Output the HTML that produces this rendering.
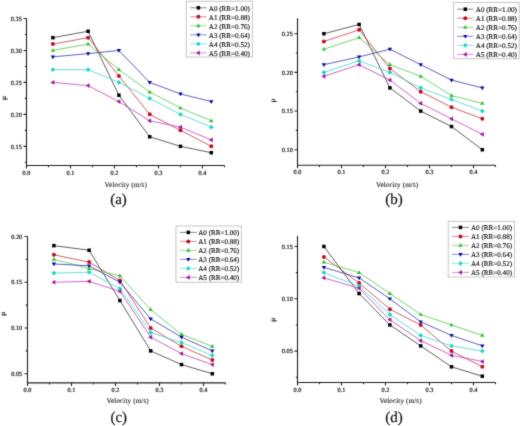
<!DOCTYPE html>
<html><head><meta charset="utf-8"><style>
html,body{margin:0;padding:0;background:#fff;}
svg{display:block;}
text{font-family:"Liberation Serif","DejaVu Serif",serif;fill:#111;stroke:#111;stroke-width:0.12px;text-rendering:geometricPrecision;}
.tk{font-size:6.3px;stroke-width:0.18px;}
.lg{font-size:7.1px;stroke-width:0.15px;}
.vl{font-size:7.2px;letter-spacing:0.1px;stroke-width:0.08px;}
.pl{font-size:15px;stroke-width:0.2px;}
.mu{font-size:7.2px;}
</style></head><body>
<svg width="520" height="426" viewBox="0 0 520 426">
<defs><filter id="bl" x="0" y="0" width="520" height="426" filterUnits="userSpaceOnUse" color-interpolation-filters="sRGB"><feConvolveMatrix order="3" kernelMatrix="0.0225 0.0810 0.0225 0.0810 0.5860 0.0810 0.0225 0.0810 0.0225" edgeMode="duplicate" preserveAlpha="false"/></filter></defs>
<rect width="520" height="426" fill="#fff"/>
<g filter="url(#bl)">
<path d="M26.5 18.5V165.5H224.5" fill="none" stroke="#222" stroke-width="1.1"/>
<path d="M26.5 146.33h-3M26.5 114.37h-3M26.5 82.41h-3M26.5 50.46h-3M26.5 18.5h-3M26.5 162.3h-1.7M26.5 130.35h-1.7M26.5 98.39h-1.7M26.5 66.43h-1.7M26.5 34.48h-1.7M26.5 165.5v3M70.5 165.5v3M114.5 165.5v3M158.5 165.5v3M202.5 165.5v3M48.5 165.5v1.7M92.5 165.5v1.7M136.5 165.5v1.7M180.5 165.5v1.7M224.5 165.5v1.7" stroke="#222" stroke-width="1.1"/>
<text x="21.9" y="148.53" class="tk" text-anchor="end">0.15</text>
<text x="21.9" y="116.57" class="tk" text-anchor="end">0.20</text>
<text x="21.9" y="84.61" class="tk" text-anchor="end">0.25</text>
<text x="21.9" y="52.66" class="tk" text-anchor="end">0.30</text>
<text x="21.9" y="20.7" class="tk" text-anchor="end">0.35</text>
<text x="26.5" y="174.5" class="tk" text-anchor="middle">0.0</text>
<text x="70.5" y="174.5" class="tk" text-anchor="middle">0.1</text>
<text x="114.5" y="174.5" class="tk" text-anchor="middle">0.2</text>
<text x="158.5" y="174.5" class="tk" text-anchor="middle">0.3</text>
<text x="202.5" y="174.5" class="tk" text-anchor="middle">0.4</text>
<polyline points="52.9,37.67 88.1,31.28 118.9,95.2 149.7,136.74 180.5,146.33 211.3,152.72" fill="none" stroke="#383838" stroke-width="0.8"/>
<polyline points="52.9,44.07 88.1,37.67 118.9,76.02 149.7,114.37 180.5,130.35 211.3,146.33" fill="none" stroke="#c83848" stroke-width="0.8"/>
<polyline points="52.9,50.46 88.1,44.07 118.9,69.63 149.7,92 180.5,107.98 211.3,120.76" fill="none" stroke="#50c850" stroke-width="0.8"/>
<polyline points="52.9,56.85 88.1,53.65 118.9,50.46 149.7,82.41 180.5,93.92 211.3,101.59" fill="none" stroke="#3838b0" stroke-width="0.8"/>
<polyline points="52.9,69.63 88.1,69.63 118.9,82.41 149.7,98.39 180.5,114.37 211.3,127.15" fill="none" stroke="#40d8d0" stroke-width="0.8"/>
<polyline points="52.9,82.41 88.1,85.61 118.9,101.59 149.7,120.76 180.5,127.15 211.3,139.93" fill="none" stroke="#c040c0" stroke-width="0.8"/>
<rect x="51.15" y="35.92" width="3.5" height="3.5" fill="#000000"/>
<rect x="86.35" y="29.53" width="3.5" height="3.5" fill="#000000"/>
<rect x="117.15" y="93.45" width="3.5" height="3.5" fill="#000000"/>
<rect x="147.95" y="134.99" width="3.5" height="3.5" fill="#000000"/>
<rect x="178.75" y="144.58" width="3.5" height="3.5" fill="#000000"/>
<rect x="209.55" y="150.97" width="3.5" height="3.5" fill="#000000"/>
<circle cx="52.9" cy="44.07" r="2" fill="#c0102a"/>
<circle cx="88.1" cy="37.67" r="2" fill="#c0102a"/>
<circle cx="118.9" cy="76.02" r="2" fill="#c0102a"/>
<circle cx="149.7" cy="114.37" r="2" fill="#c0102a"/>
<circle cx="180.5" cy="130.35" r="2" fill="#c0102a"/>
<circle cx="211.3" cy="146.33" r="2" fill="#c0102a"/>
<path d="M52.9 48.16L55.09 51.84L50.71 51.84Z" fill="#30c030"/>
<path d="M88.1 41.77L90.29 45.45L85.92 45.45Z" fill="#30c030"/>
<path d="M118.9 67.33L121.08 71.01L116.71 71.01Z" fill="#30c030"/>
<path d="M149.7 89.7L151.89 93.38L147.52 93.38Z" fill="#30c030"/>
<path d="M180.5 105.68L182.69 109.36L178.31 109.36Z" fill="#30c030"/>
<path d="M211.3 118.46L213.48 122.14L209.11 122.14Z" fill="#30c030"/>
<path d="M52.9 59.15L55.09 55.47L50.71 55.47Z" fill="#0808a0"/>
<path d="M88.1 55.95L90.29 52.27L85.92 52.27Z" fill="#0808a0"/>
<path d="M118.9 52.76L121.08 49.08L116.71 49.08Z" fill="#0808a0"/>
<path d="M149.7 84.71L151.89 81.03L147.52 81.03Z" fill="#0808a0"/>
<path d="M180.5 96.22L182.69 92.54L178.31 92.54Z" fill="#0808a0"/>
<path d="M211.3 103.89L213.48 100.21L209.11 100.21Z" fill="#0808a0"/>
<path d="M52.9 67.23L55.3 69.63L52.9 72.03L50.5 69.63Z" fill="#20d8c0"/>
<path d="M88.1 67.23L90.5 69.63L88.1 72.03L85.7 69.63Z" fill="#20d8c0"/>
<path d="M118.9 80.01L121.3 82.41L118.9 84.81L116.5 82.41Z" fill="#20d8c0"/>
<path d="M149.7 95.99L152.1 98.39L149.7 100.79L147.3 98.39Z" fill="#20d8c0"/>
<path d="M180.5 111.97L182.9 114.37L180.5 116.77L178.1 114.37Z" fill="#20d8c0"/>
<path d="M211.3 124.75L213.7 127.15L211.3 129.55L208.9 127.15Z" fill="#20d8c0"/>
<path d="M50.4 82.41L54.4 80.04L54.4 84.79Z" fill="#a01aa0"/>
<path d="M85.6 85.61L89.6 83.23L89.6 87.98Z" fill="#a01aa0"/>
<path d="M116.4 101.59L120.4 99.21L120.4 103.96Z" fill="#a01aa0"/>
<path d="M147.2 120.76L151.2 118.39L151.2 123.14Z" fill="#a01aa0"/>
<path d="M178 127.15L182 124.78L182 129.53Z" fill="#a01aa0"/>
<path d="M208.8 139.93L212.8 137.56L212.8 142.31Z" fill="#a01aa0"/>
<rect x="186.2" y="1.2" width="66.1" height="55.8" fill="none" stroke="#b8b8b8" stroke-width="0.8"/>
<path d="M190.3 7.8H206.5" stroke="#383838" stroke-width="0.8" stroke-opacity="0.75"/>
<rect x="196.65" y="6.05" width="3.5" height="3.5" fill="#000000"/>
<text x="208.8" y="10.55" class="lg">A0 (RR=1.00)</text>
<path d="M190.3 16.82H206.5" stroke="#c83848" stroke-width="0.8" stroke-opacity="0.75"/>
<circle cx="198.4" cy="16.82" r="2" fill="#c0102a"/>
<text x="208.8" y="19.57" class="lg">A1 (RR=0.88)</text>
<path d="M190.3 25.84H206.5" stroke="#50c850" stroke-width="0.8" stroke-opacity="0.75"/>
<path d="M198.4 23.54L200.59 27.22L196.22 27.22Z" fill="#30c030"/>
<text x="208.8" y="28.59" class="lg">A2 (RR=0.76)</text>
<path d="M190.3 34.86H206.5" stroke="#3838b0" stroke-width="0.8" stroke-opacity="0.75"/>
<path d="M198.4 37.16L200.59 33.48L196.22 33.48Z" fill="#0808a0"/>
<text x="208.8" y="37.61" class="lg">A3 (RR=0.64)</text>
<path d="M190.3 43.88H206.5" stroke="#40d8d0" stroke-width="0.8" stroke-opacity="0.75"/>
<path d="M198.4 41.48L200.8 43.88L198.4 46.28L196 43.88Z" fill="#20d8c0"/>
<text x="208.8" y="46.63" class="lg">A4 (RR=0.52)</text>
<path d="M190.3 52.9H206.5" stroke="#c040c0" stroke-width="0.8" stroke-opacity="0.75"/>
<path d="M195.9 52.9L199.9 50.52L199.9 55.27Z" fill="#a01aa0"/>
<text x="208.8" y="55.65" class="lg">A5 (RR=0.40)</text>
<text x="104.6" y="186.9" class="vl">Velocity (m/s)</text>
<text x="110.2" y="204" class="pl">(a)</text>
<text x="0" y="0" class="mu" text-anchor="middle" transform="translate(5.7 98) rotate(-90)">&#956;</text>
<path d="M297.5 18.25V165.2H495.5" fill="none" stroke="#222" stroke-width="1.1"/>
<path d="M297.5 149.73h-3M297.5 111.06h-3M297.5 72.39h-3M297.5 33.72h-3M297.5 130.4h-1.7M297.5 91.73h-1.7M297.5 53.05h-1.7M297.5 165.2v3M341.5 165.2v3M385.5 165.2v3M429.5 165.2v3M473.5 165.2v3M319.5 165.2v1.7M363.5 165.2v1.7M407.5 165.2v1.7M451.5 165.2v1.7M495.5 165.2v1.7" stroke="#222" stroke-width="1.1"/>
<text x="292.9" y="151.93" class="tk" text-anchor="end">0.10</text>
<text x="292.9" y="113.26" class="tk" text-anchor="end">0.15</text>
<text x="292.9" y="74.59" class="tk" text-anchor="end">0.20</text>
<text x="292.9" y="35.92" class="tk" text-anchor="end">0.25</text>
<text x="297.5" y="174.2" class="tk" text-anchor="middle">0.0</text>
<text x="341.5" y="174.2" class="tk" text-anchor="middle">0.1</text>
<text x="385.5" y="174.2" class="tk" text-anchor="middle">0.2</text>
<text x="429.5" y="174.2" class="tk" text-anchor="middle">0.3</text>
<text x="473.5" y="174.2" class="tk" text-anchor="middle">0.4</text>
<polyline points="323.9,33.72 359.1,24.44 389.9,87.86 420.7,111.06 451.5,126.53 482.3,149.73" fill="none" stroke="#383838" stroke-width="0.8"/>
<polyline points="323.9,41.45 359.1,29.85 389.9,68.52 420.7,91.73 451.5,107.19 482.3,118.79" fill="none" stroke="#c83848" stroke-width="0.8"/>
<polyline points="323.9,49.19 359.1,37.59 389.9,64.66 420.7,76.26 451.5,95.59 482.3,103.33" fill="none" stroke="#50c850" stroke-width="0.8"/>
<polyline points="323.9,64.66 359.1,56.92 389.9,49.19 420.7,64.66 451.5,80.12 482.3,87.86" fill="none" stroke="#3838b0" stroke-width="0.8"/>
<polyline points="323.9,72.39 359.1,60.79 389.9,72.39 420.7,87.86 451.5,99.46 482.3,111.06" fill="none" stroke="#40d8d0" stroke-width="0.8"/>
<polyline points="323.9,76.26 359.1,64.66 389.9,80.12 420.7,103.33 451.5,118.79 482.3,134.26" fill="none" stroke="#c040c0" stroke-width="0.8"/>
<rect x="322.15" y="31.97" width="3.5" height="3.5" fill="#000000"/>
<rect x="357.35" y="22.69" width="3.5" height="3.5" fill="#000000"/>
<rect x="388.15" y="86.11" width="3.5" height="3.5" fill="#000000"/>
<rect x="418.95" y="109.31" width="3.5" height="3.5" fill="#000000"/>
<rect x="449.75" y="124.78" width="3.5" height="3.5" fill="#000000"/>
<rect x="480.55" y="147.98" width="3.5" height="3.5" fill="#000000"/>
<circle cx="323.9" cy="41.45" r="2" fill="#c0102a"/>
<circle cx="359.1" cy="29.85" r="2" fill="#c0102a"/>
<circle cx="389.9" cy="68.52" r="2" fill="#c0102a"/>
<circle cx="420.7" cy="91.73" r="2" fill="#c0102a"/>
<circle cx="451.5" cy="107.19" r="2" fill="#c0102a"/>
<circle cx="482.3" cy="118.79" r="2" fill="#c0102a"/>
<path d="M323.9 46.89L326.08 50.57L321.71 50.57Z" fill="#30c030"/>
<path d="M359.1 35.29L361.29 38.97L356.92 38.97Z" fill="#30c030"/>
<path d="M389.9 62.36L392.08 66.04L387.71 66.04Z" fill="#30c030"/>
<path d="M420.7 73.96L422.89 77.64L418.52 77.64Z" fill="#30c030"/>
<path d="M451.5 93.29L453.69 96.97L449.31 96.97Z" fill="#30c030"/>
<path d="M482.3 101.03L484.48 104.71L480.11 104.71Z" fill="#30c030"/>
<path d="M323.9 66.96L326.08 63.28L321.71 63.28Z" fill="#0808a0"/>
<path d="M359.1 59.22L361.29 55.54L356.92 55.54Z" fill="#0808a0"/>
<path d="M389.9 51.49L392.08 47.81L387.71 47.81Z" fill="#0808a0"/>
<path d="M420.7 66.96L422.89 63.28L418.52 63.28Z" fill="#0808a0"/>
<path d="M451.5 82.42L453.69 78.74L449.31 78.74Z" fill="#0808a0"/>
<path d="M482.3 90.16L484.48 86.48L480.11 86.48Z" fill="#0808a0"/>
<path d="M323.9 69.99L326.3 72.39L323.9 74.79L321.5 72.39Z" fill="#20d8c0"/>
<path d="M359.1 58.39L361.5 60.79L359.1 63.19L356.7 60.79Z" fill="#20d8c0"/>
<path d="M389.9 69.99L392.3 72.39L389.9 74.79L387.5 72.39Z" fill="#20d8c0"/>
<path d="M420.7 85.46L423.1 87.86L420.7 90.26L418.3 87.86Z" fill="#20d8c0"/>
<path d="M451.5 97.06L453.9 99.46L451.5 101.86L449.1 99.46Z" fill="#20d8c0"/>
<path d="M482.3 108.66L484.7 111.06L482.3 113.46L479.9 111.06Z" fill="#20d8c0"/>
<path d="M321.4 76.26L325.4 73.88L325.4 78.63Z" fill="#a01aa0"/>
<path d="M356.6 64.66L360.6 62.28L360.6 67.03Z" fill="#a01aa0"/>
<path d="M387.4 80.12L391.4 77.75L391.4 82.5Z" fill="#a01aa0"/>
<path d="M418.2 103.33L422.2 100.95L422.2 105.7Z" fill="#a01aa0"/>
<path d="M449 118.79L453 116.42L453 121.17Z" fill="#a01aa0"/>
<path d="M479.8 134.26L483.8 131.89L483.8 136.64Z" fill="#a01aa0"/>
<rect x="453.4" y="2.6" width="65.7" height="56.2" fill="none" stroke="#b8b8b8" stroke-width="0.8"/>
<path d="M457.3 9.2H473.3" stroke="#383838" stroke-width="0.8" stroke-opacity="0.75"/>
<rect x="463.55" y="7.45" width="3.5" height="3.5" fill="#000000"/>
<text x="475.8" y="11.95" class="lg">A0 (RR=1.00)</text>
<path d="M457.3 18.24H473.3" stroke="#c83848" stroke-width="0.8" stroke-opacity="0.75"/>
<circle cx="465.3" cy="18.24" r="2" fill="#c0102a"/>
<text x="475.8" y="20.99" class="lg">A1 (RR=0.88)</text>
<path d="M457.3 27.28H473.3" stroke="#50c850" stroke-width="0.8" stroke-opacity="0.75"/>
<path d="M465.3 24.98L467.49 28.66L463.12 28.66Z" fill="#30c030"/>
<text x="475.8" y="30.03" class="lg">A2 (RR=0.76)</text>
<path d="M457.3 36.32H473.3" stroke="#3838b0" stroke-width="0.8" stroke-opacity="0.75"/>
<path d="M465.3 38.62L467.49 34.94L463.12 34.94Z" fill="#0808a0"/>
<text x="475.8" y="39.07" class="lg">A3 (RR=0.64)</text>
<path d="M457.3 45.36H473.3" stroke="#40d8d0" stroke-width="0.8" stroke-opacity="0.75"/>
<path d="M465.3 42.96L467.7 45.36L465.3 47.76L462.9 45.36Z" fill="#20d8c0"/>
<text x="475.8" y="48.11" class="lg">A4 (RR=0.52)</text>
<path d="M457.3 54.4H473.3" stroke="#c040c0" stroke-width="0.8" stroke-opacity="0.75"/>
<path d="M462.8 54.4L466.8 52.02L466.8 56.77Z" fill="#a01aa0"/>
<text x="475.8" y="57.15" class="lg">A5 (RR=0.40)</text>
<text x="376" y="187" class="vl">Velocity (m/s)</text>
<text x="385.2" y="204.1" class="pl">(b)</text>
<text x="0" y="0" class="mu" text-anchor="middle" transform="translate(274.85 100.65) rotate(-90)">&#956;</text>
<path d="M27.5 236.5V382.9H225.5" fill="none" stroke="#222" stroke-width="1.1"/>
<path d="M27.5 373.75h-3M27.5 328h-3M27.5 282.25h-3M27.5 236.5h-3M27.5 350.88h-1.7M27.5 305.12h-1.7M27.5 259.38h-1.7M27.5 382.9v3M71.5 382.9v3M115.5 382.9v3M159.5 382.9v3M203.5 382.9v3M49.5 382.9v1.7M93.5 382.9v1.7M137.5 382.9v1.7M181.5 382.9v1.7M225.5 382.9v1.7" stroke="#222" stroke-width="1.1"/>
<text x="22.2" y="375.95" class="tk" text-anchor="end">0.05</text>
<text x="22.2" y="330.2" class="tk" text-anchor="end">0.10</text>
<text x="22.2" y="284.45" class="tk" text-anchor="end">0.15</text>
<text x="22.2" y="238.7" class="tk" text-anchor="end">0.20</text>
<text x="27.5" y="391.9" class="tk" text-anchor="middle">0.0</text>
<text x="71.5" y="391.9" class="tk" text-anchor="middle">0.1</text>
<text x="115.5" y="391.9" class="tk" text-anchor="middle">0.2</text>
<text x="159.5" y="391.9" class="tk" text-anchor="middle">0.3</text>
<text x="203.5" y="391.9" class="tk" text-anchor="middle">0.4</text>
<polyline points="53.9,245.65 89.1,250.23 119.9,300.55 150.7,350.88 181.5,364.6 212.3,373.75" fill="none" stroke="#383838" stroke-width="0.8"/>
<polyline points="53.9,254.8 89.1,262.12 119.9,280.42 150.7,328 181.5,346.3 212.3,360.02" fill="none" stroke="#c83848" stroke-width="0.8"/>
<polyline points="53.9,259.38 89.1,268.52 119.9,275.85 150.7,309.7 181.5,334.4 212.3,346.3" fill="none" stroke="#50c850" stroke-width="0.8"/>
<polyline points="53.9,263.95 89.1,265.78 119.9,282.25 150.7,318.85 181.5,337.15 212.3,350.88" fill="none" stroke="#3838b0" stroke-width="0.8"/>
<polyline points="53.9,273.1 89.1,272.19 119.9,288.66 150.7,332.57 181.5,342.64 212.3,355.45" fill="none" stroke="#40d8d0" stroke-width="0.8"/>
<polyline points="53.9,282.25 89.1,281.34 119.9,291.4 150.7,337.15 181.5,353.62 212.3,364.6" fill="none" stroke="#c040c0" stroke-width="0.8"/>
<rect x="52.15" y="243.9" width="3.5" height="3.5" fill="#000000"/>
<rect x="87.35" y="248.48" width="3.5" height="3.5" fill="#000000"/>
<rect x="118.15" y="298.8" width="3.5" height="3.5" fill="#000000"/>
<rect x="148.95" y="349.12" width="3.5" height="3.5" fill="#000000"/>
<rect x="179.75" y="362.85" width="3.5" height="3.5" fill="#000000"/>
<rect x="210.55" y="372" width="3.5" height="3.5" fill="#000000"/>
<circle cx="53.9" cy="254.8" r="2" fill="#c0102a"/>
<circle cx="89.1" cy="262.12" r="2" fill="#c0102a"/>
<circle cx="119.9" cy="280.42" r="2" fill="#c0102a"/>
<circle cx="150.7" cy="328" r="2" fill="#c0102a"/>
<circle cx="181.5" cy="346.3" r="2" fill="#c0102a"/>
<circle cx="212.3" cy="360.02" r="2" fill="#c0102a"/>
<path d="M53.9 257.07L56.09 260.75L51.71 260.75Z" fill="#30c030"/>
<path d="M89.1 266.22L91.29 269.9L86.92 269.9Z" fill="#30c030"/>
<path d="M119.9 273.55L122.08 277.23L117.71 277.23Z" fill="#30c030"/>
<path d="M150.7 307.4L152.89 311.08L148.52 311.08Z" fill="#30c030"/>
<path d="M181.5 332.1L183.69 335.78L179.31 335.78Z" fill="#30c030"/>
<path d="M212.3 344L214.48 347.68L210.11 347.68Z" fill="#30c030"/>
<path d="M53.9 266.25L56.09 262.57L51.71 262.57Z" fill="#0808a0"/>
<path d="M89.1 268.08L91.29 264.4L86.92 264.4Z" fill="#0808a0"/>
<path d="M119.9 284.55L122.08 280.87L117.71 280.87Z" fill="#0808a0"/>
<path d="M150.7 321.15L152.89 317.47L148.52 317.47Z" fill="#0808a0"/>
<path d="M181.5 339.45L183.69 335.77L179.31 335.77Z" fill="#0808a0"/>
<path d="M212.3 353.18L214.48 349.5L210.11 349.5Z" fill="#0808a0"/>
<path d="M53.9 270.7L56.3 273.1L53.9 275.5L51.5 273.1Z" fill="#20d8c0"/>
<path d="M89.1 269.79L91.5 272.19L89.1 274.58L86.7 272.19Z" fill="#20d8c0"/>
<path d="M119.9 286.26L122.3 288.66L119.9 291.06L117.5 288.66Z" fill="#20d8c0"/>
<path d="M150.7 330.18L153.1 332.57L150.7 334.97L148.3 332.57Z" fill="#20d8c0"/>
<path d="M181.5 340.24L183.9 342.64L181.5 345.04L179.1 342.64Z" fill="#20d8c0"/>
<path d="M212.3 353.05L214.7 355.45L212.3 357.85L209.9 355.45Z" fill="#20d8c0"/>
<path d="M51.4 282.25L55.4 279.88L55.4 284.62Z" fill="#a01aa0"/>
<path d="M86.6 281.34L90.6 278.96L90.6 283.71Z" fill="#a01aa0"/>
<path d="M117.4 291.4L121.4 289.02L121.4 293.77Z" fill="#a01aa0"/>
<path d="M148.2 337.15L152.2 334.77L152.2 339.52Z" fill="#a01aa0"/>
<path d="M179 353.62L183 351.25L183 356Z" fill="#a01aa0"/>
<path d="M209.8 364.6L213.8 362.22L213.8 366.97Z" fill="#a01aa0"/>
<rect x="176" y="226" width="65.3" height="56.2" fill="none" stroke="#b8b8b8" stroke-width="0.8"/>
<path d="M179.8 232.4H196.8" stroke="#383838" stroke-width="0.8" stroke-opacity="0.75"/>
<rect x="186.55" y="230.65" width="3.5" height="3.5" fill="#000000"/>
<text x="198.2" y="235.15" class="lg">A0 (RR=1.00)</text>
<path d="M179.8 241.4H196.8" stroke="#c83848" stroke-width="0.8" stroke-opacity="0.75"/>
<circle cx="188.3" cy="241.4" r="2" fill="#c0102a"/>
<text x="198.2" y="244.15" class="lg">A1 (RR=0.88)</text>
<path d="M179.8 250.4H196.8" stroke="#50c850" stroke-width="0.8" stroke-opacity="0.75"/>
<path d="M188.3 248.1L190.49 251.78L186.12 251.78Z" fill="#30c030"/>
<text x="198.2" y="253.15" class="lg">A2 (RR=0.76)</text>
<path d="M179.8 259.4H196.8" stroke="#3838b0" stroke-width="0.8" stroke-opacity="0.75"/>
<path d="M188.3 261.7L190.49 258.02L186.12 258.02Z" fill="#0808a0"/>
<text x="198.2" y="262.15" class="lg">A3 (RR=0.64)</text>
<path d="M179.8 268.4H196.8" stroke="#40d8d0" stroke-width="0.8" stroke-opacity="0.75"/>
<path d="M188.3 266L190.7 268.4L188.3 270.8L185.9 268.4Z" fill="#20d8c0"/>
<text x="198.2" y="271.15" class="lg">A4 (RR=0.52)</text>
<path d="M179.8 277.4H196.8" stroke="#c040c0" stroke-width="0.8" stroke-opacity="0.75"/>
<path d="M185.8 277.4L189.8 275.02L189.8 279.77Z" fill="#a01aa0"/>
<text x="198.2" y="280.15" class="lg">A5 (RR=0.40)</text>
<text x="106.5" y="403.3" class="vl">Velocity (m/s)</text>
<text x="110.4" y="422.1" class="pl">(c)</text>
<text x="0" y="0" class="mu" text-anchor="middle" transform="translate(5.15 313.8) rotate(-90)">&#956;</text>
<path d="M297.5 236V382.5H495.5" fill="none" stroke="#222" stroke-width="1.1"/>
<path d="M297.5 351.11h-3M297.5 298.79h-3M297.5 246.46h-3M297.5 377.27h-1.7M297.5 324.95h-1.7M297.5 272.62h-1.7M297.5 382.5v3M341.5 382.5v3M385.5 382.5v3M429.5 382.5v3M473.5 382.5v3M319.5 382.5v1.7M363.5 382.5v1.7M407.5 382.5v1.7M451.5 382.5v1.7M495.5 382.5v1.7" stroke="#222" stroke-width="1.1"/>
<text x="292.9" y="353.31" class="tk" text-anchor="end">0.05</text>
<text x="292.9" y="300.99" class="tk" text-anchor="end">0.10</text>
<text x="292.9" y="248.66" class="tk" text-anchor="end">0.15</text>
<text x="297.5" y="391.5" class="tk" text-anchor="middle">0.0</text>
<text x="341.5" y="391.5" class="tk" text-anchor="middle">0.1</text>
<text x="385.5" y="391.5" class="tk" text-anchor="middle">0.2</text>
<text x="429.5" y="391.5" class="tk" text-anchor="middle">0.3</text>
<text x="473.5" y="391.5" class="tk" text-anchor="middle">0.4</text>
<polyline points="323.9,246.46 359.1,293.55 389.9,324.95 420.7,345.88 451.5,366.8 482.3,376.22" fill="none" stroke="#383838" stroke-width="0.8"/>
<polyline points="323.9,256.93 359.1,283.09 389.9,309.25 420.7,324.95 451.5,351.11 482.3,366.8" fill="none" stroke="#c83848" stroke-width="0.8"/>
<polyline points="323.9,262.16 359.1,272.62 389.9,293.55 420.7,314.48 451.5,324.95 482.3,335.41" fill="none" stroke="#50c850" stroke-width="0.8"/>
<polyline points="323.9,267.39 359.1,277.86 389.9,298.79 420.7,321.81 451.5,335.41 482.3,345.88" fill="none" stroke="#3838b0" stroke-width="0.8"/>
<polyline points="323.9,272.62 359.1,286.23 389.9,314.48 420.7,335.41 451.5,345.88 482.3,351.11" fill="none" stroke="#40d8d0" stroke-width="0.8"/>
<polyline points="323.9,277.86 359.1,288.32 389.9,319.71 420.7,340.64 451.5,355.29 482.3,361.57" fill="none" stroke="#c040c0" stroke-width="0.8"/>
<rect x="322.15" y="244.71" width="3.5" height="3.5" fill="#000000"/>
<rect x="357.35" y="291.8" width="3.5" height="3.5" fill="#000000"/>
<rect x="388.15" y="323.2" width="3.5" height="3.5" fill="#000000"/>
<rect x="418.95" y="344.12" width="3.5" height="3.5" fill="#000000"/>
<rect x="449.75" y="365.05" width="3.5" height="3.5" fill="#000000"/>
<rect x="480.55" y="374.47" width="3.5" height="3.5" fill="#000000"/>
<circle cx="323.9" cy="256.93" r="2" fill="#c0102a"/>
<circle cx="359.1" cy="283.09" r="2" fill="#c0102a"/>
<circle cx="389.9" cy="309.25" r="2" fill="#c0102a"/>
<circle cx="420.7" cy="324.95" r="2" fill="#c0102a"/>
<circle cx="451.5" cy="351.11" r="2" fill="#c0102a"/>
<circle cx="482.3" cy="366.8" r="2" fill="#c0102a"/>
<path d="M323.9 259.86L326.08 263.54L321.71 263.54Z" fill="#30c030"/>
<path d="M359.1 270.32L361.29 274L356.92 274Z" fill="#30c030"/>
<path d="M389.9 291.25L392.08 294.93L387.71 294.93Z" fill="#30c030"/>
<path d="M420.7 312.18L422.89 315.86L418.52 315.86Z" fill="#30c030"/>
<path d="M451.5 322.65L453.69 326.33L449.31 326.33Z" fill="#30c030"/>
<path d="M482.3 333.11L484.48 336.79L480.11 336.79Z" fill="#30c030"/>
<path d="M323.9 269.69L326.08 266.01L321.71 266.01Z" fill="#0808a0"/>
<path d="M359.1 280.16L361.29 276.48L356.92 276.48Z" fill="#0808a0"/>
<path d="M389.9 301.09L392.08 297.41L387.71 297.41Z" fill="#0808a0"/>
<path d="M420.7 324.11L422.89 320.43L418.52 320.43Z" fill="#0808a0"/>
<path d="M451.5 337.71L453.69 334.03L449.31 334.03Z" fill="#0808a0"/>
<path d="M482.3 348.18L484.48 344.5L480.11 344.5Z" fill="#0808a0"/>
<path d="M323.9 270.23L326.3 272.62L323.9 275.02L321.5 272.62Z" fill="#20d8c0"/>
<path d="M359.1 283.83L361.5 286.23L359.1 288.63L356.7 286.23Z" fill="#20d8c0"/>
<path d="M389.9 312.08L392.3 314.48L389.9 316.88L387.5 314.48Z" fill="#20d8c0"/>
<path d="M420.7 333.01L423.1 335.41L420.7 337.81L418.3 335.41Z" fill="#20d8c0"/>
<path d="M451.5 343.48L453.9 345.88L451.5 348.27L449.1 345.88Z" fill="#20d8c0"/>
<path d="M482.3 348.71L484.7 351.11L482.3 353.51L479.9 351.11Z" fill="#20d8c0"/>
<path d="M321.4 277.86L325.4 275.48L325.4 280.23Z" fill="#a01aa0"/>
<path d="M356.6 288.32L360.6 285.95L360.6 290.7Z" fill="#a01aa0"/>
<path d="M387.4 319.71L391.4 317.34L391.4 322.09Z" fill="#a01aa0"/>
<path d="M418.2 340.64L422.2 338.27L422.2 343.02Z" fill="#a01aa0"/>
<path d="M449 355.29L453 352.92L453 357.67Z" fill="#a01aa0"/>
<path d="M479.8 361.57L483.8 359.2L483.8 363.95Z" fill="#a01aa0"/>
<rect x="448.2" y="221.3" width="66.2" height="55.7" fill="none" stroke="#b8b8b8" stroke-width="0.8"/>
<path d="M452 227.4H469" stroke="#383838" stroke-width="0.8" stroke-opacity="0.75"/>
<rect x="458.75" y="225.65" width="3.5" height="3.5" fill="#000000"/>
<text x="471" y="230.15" class="lg">A0 (RR=1.00)</text>
<path d="M452 236.4H469" stroke="#c83848" stroke-width="0.8" stroke-opacity="0.75"/>
<circle cx="460.5" cy="236.4" r="2" fill="#c0102a"/>
<text x="471" y="239.15" class="lg">A1 (RR=0.88)</text>
<path d="M452 245.4H469" stroke="#50c850" stroke-width="0.8" stroke-opacity="0.75"/>
<path d="M460.5 243.1L462.69 246.78L458.31 246.78Z" fill="#30c030"/>
<text x="471" y="248.15" class="lg">A2 (RR=0.76)</text>
<path d="M452 254.4H469" stroke="#3838b0" stroke-width="0.8" stroke-opacity="0.75"/>
<path d="M460.5 256.7L462.69 253.02L458.31 253.02Z" fill="#0808a0"/>
<text x="471" y="257.15" class="lg">A3 (RR=0.64)</text>
<path d="M452 263.4H469" stroke="#40d8d0" stroke-width="0.8" stroke-opacity="0.75"/>
<path d="M460.5 261L462.9 263.4L460.5 265.8L458.1 263.4Z" fill="#20d8c0"/>
<text x="471" y="266.15" class="lg">A4 (RR=0.52)</text>
<path d="M452 272.4H469" stroke="#c040c0" stroke-width="0.8" stroke-opacity="0.75"/>
<path d="M458 272.4L462 270.02L462 274.77Z" fill="#a01aa0"/>
<text x="471" y="275.15" class="lg">A5 (RR=0.40)</text>
<text x="379.4" y="403.3" class="vl">Velocity (m/s)</text>
<text x="385.2" y="422.1" class="pl">(d)</text>
<text x="0" y="0" class="mu" text-anchor="middle" transform="translate(275.45 319.9) rotate(-90)">&#956;</text>
</g>
</svg>
</body></html>
